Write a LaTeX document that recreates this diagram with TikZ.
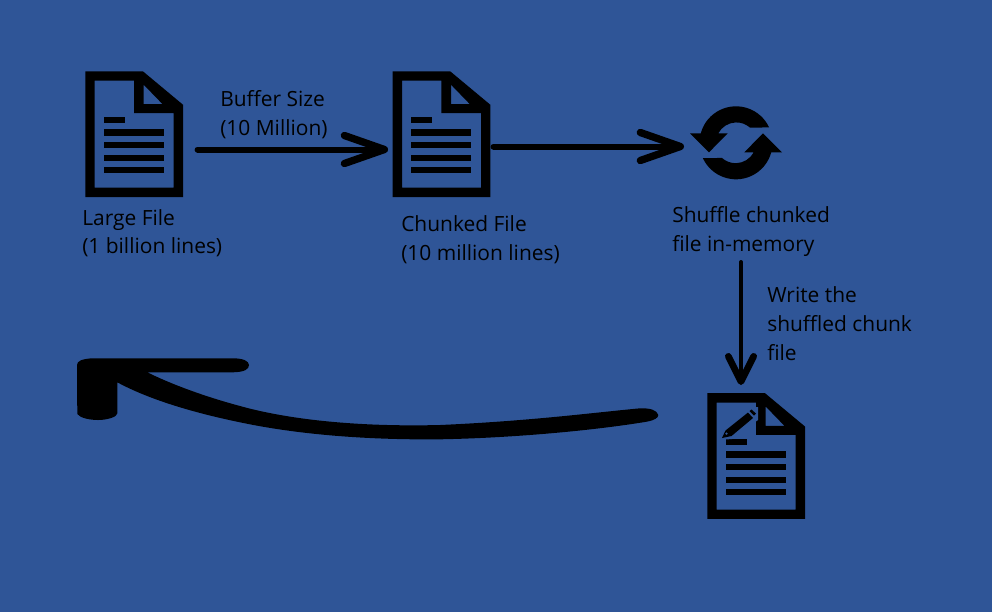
\documentclass[tikz,border=0pt]{standalone}
\usepackage{fontspec}
\setmainfont{Open Sans}
\usetikzlibrary{arrows.meta,positioning,calc}
\definecolor{slide}{HTML}{2F5597}
\definecolor{ink}{HTML}{000000}
\tikzset{
  iconbox/.style={inner sep=0pt, minimum width=73.2pt, minimum height=94.2pt},
  lab/.style={font=\fontsize{15.7}{21.5}\selectfont, text=ink, align=left, anchor=north west, inner sep=0pt},
  arr/.style={-{Straight Barb[length=30pt,width=21pt,round,line width=5.5pt]}, line width=4.5pt, line cap=round, draw=ink},
  arrthin/.style={-{Straight Barb[length=19pt,width=19pt,round,line width=5pt]}, line width=3pt, line cap=round, draw=ink},
  filepic/.pic={
    % outline with the folded corner, then the text lines
    \fill[ink, even odd rule] (0,0) -- (57.6,0) -- (97.6,33.3) -- (97.6,125.6) -- (0,125.6) -- cycle
      (9.3,9.3) -- (48.6,9.3) -- (48.6,41.6) -- (88.3,41.6) -- (88.3,116.3) -- (9.3,116.3) -- cycle
      (58.3,13.3) -- (77,32.6) -- (58.3,32.6) -- cycle;
    \fill[ink] (18.6,45.3) rectangle (39.3,51.6);
    \foreach \y in {58,70.6,83.3,95.6}
      \fill[ink] (18.6,\y) rectangle (78.6,\y+6.4);
  },
  halfsync/.pic={
    \fill[ink] (-25:36.5) arc[start angle=-25, end angle=-165, radius=36.5]
      -- (-46,-9.5) -- (-27,9.5) -- (-8.3,-9.5) -- (-17.7,-9.5)
      arc[start angle=-152, end angle=-48, radius=20.5] -- cycle;
  },
}
\begin{document}
\begin{tikzpicture}[x=0.75pt,y=-0.75pt]
  \fill[slide] (0,0) rectangle (992,612);
  \useasboundingbox (0,0) rectangle (992,612);

  \node[iconbox] (large) at (134.5,134.5) {};
  \node[iconbox] (chunked) at (441.8,134.5) {};
  \node[iconbox] (written) at (756.5,456.3) {};
  \pic at (large.north west) {filepic};
  \pic at (chunked.north west) {filepic};
  \pic at (written.north west) {filepic};

  % pen over the last file
  \fill[slide] (719,440) -- (750,407) -- (758,407) -- (758,420) -- (732,439) -- cycle;
  \fill[ink, even odd rule] (722,438) -- (725.5,430.5) -- (748,412.5) -- (753,418) -- (731.5,436) -- cycle
    (726.5,433.5) circle[radius=1.5];
  \fill[ink] (749.5,411) -- (751.5,409.5) -- (756,413.5) -- (754,415.5) -- cycle;

  \node[inner sep=0pt, minimum size=80pt] (sync) at (736,142.8) {};
  \pic at (sync.center) {halfsync};
  \pic[rotate=180] at (sync.center) {halfsync};

  \node[lab] (largelab) at (82,209) {Large File\\(1 billion lines)};
  \node[lab] (bufferlab) at (220,90.5) {Buffer Size\\(10 Million)};
  \node[lab] (chunkedlab) at (401,215.5) {Chunked File\\(10 million lines)};
  \node[lab] (synclab) at (672,206.5) {Shuffle chunked\\file in-memory};
  \node[lab] (writelab) at (767,286.5) {Write the\\shuffled chunk\\file};

  \draw[arr] ([xshift=10.5pt,yshift=-11.25pt]large.east) -- ([xshift=-3.5pt,yshift=-11.25pt]chunked.west);
  \coordinate (syncin) at (684,146.5);
  \draw[arr] ([xshift=2pt,yshift=-9pt]chunked.east) -- (syncin);
  \coordinate (synclabsouth) at (741,262);
  \coordinate (writtentop) at (741,385);
  \draw[arrthin] (synclabsouth) -- (writtentop);

  % big brush arrow back to the start
  \coordinate (brushstart) at (658.3,415);
  \coordinate (brushtip) at (77,365);
  \fill[ink] (brushstart) .. controls (657,410) and (650,408) .. (640,408.3)
    .. controls (590,413) and (530,421) .. (440,425)
    .. controls (360,427) and (290,420) .. (240,406)
    .. controls (210,398) and (175,386) .. (147.3,372.3)
    -- (233,372.3) .. controls (245,372) and (249,369) .. (249,365)
    .. controls (249,361) and (243,358.3) .. (233,358.3)
    -- (91.7,358.3) .. controls (82,359) and (77,361) .. (brushtip)
    -- (77.3,414) .. controls (80,418) and (90,420) .. (98,420)
    .. controls (107,420) and (117.3,417) .. (117.3,413.3)
    -- (117.3,382.3) .. controls (150,400) and (195,413) .. (240,422.3)
    .. controls (300,435) and (370,440) .. (440,439.3)
    .. controls (510,438) and (590,431) .. (646.7,421.7)
    .. controls (655,420) and (658,418) .. (brushstart) -- cycle;
\end{tikzpicture}
\end{document}
